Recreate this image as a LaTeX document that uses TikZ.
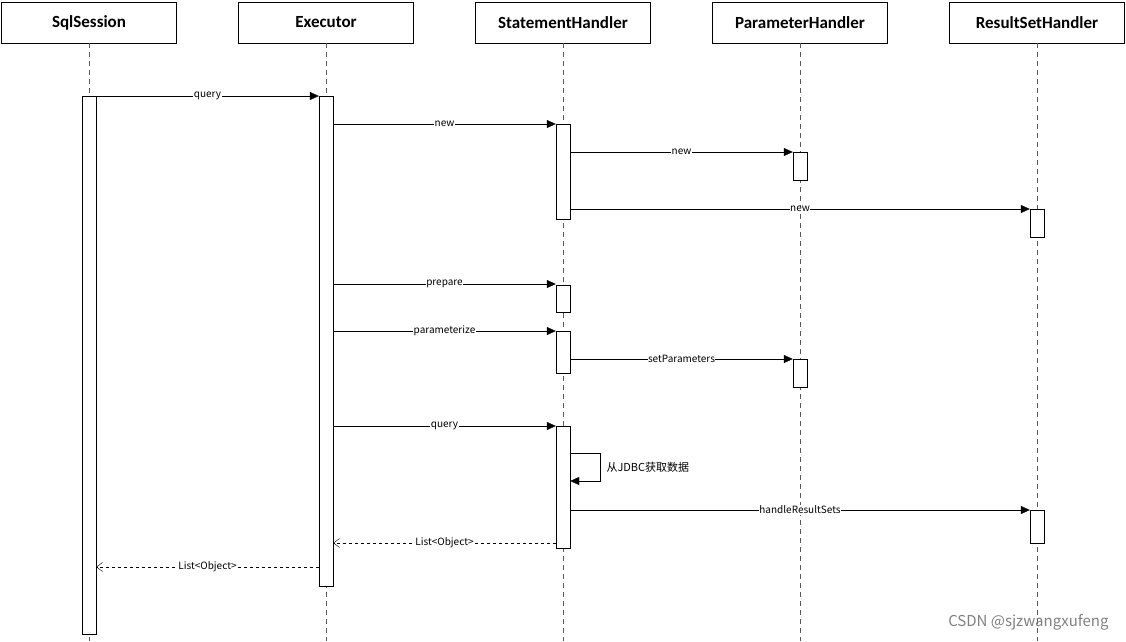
\documentclass[tikz,border=0pt]{standalone}
\usepackage{fontspec}
\setmainfont{Carlito}
\newfontfamily\cjk{Noto Sans CJK SC}
\usetikzlibrary{arrows.meta}
\begin{document}
\begin{tikzpicture}[x=1pt,y=-1pt,
  hdr/.style={draw,minimum width=175pt,minimum height=41pt,inner sep=0pt,font=\bfseries\fontsize{17}{19}\selectfont},
  act/.style={draw,fill=white,minimum width=14pt,inner sep=0pt},
  life/.style={dash pattern=on 5pt off 4pt,gray!70!black},
  msg/.style={-{Triangle[length=9pt,width=8pt]}},
  ret/.style={dashed,-{Straight Barb[length=6pt,width=9pt]}},
  lbl/.style={fill=white,inner sep=0.5pt,font=\cjk\fontsize{10}{11}\selectfont}]
\useasboundingbox (0,0) rectangle (1126,641);
\foreach \n/\t/\x in {s/SqlSession/89,e/Executor/326,h/StatementHandler/563,p/ParameterHandler/800,r/ResultSetHandler/1037}{
  \node[hdr] (\n) at (\x,22.5) {\t};
  \coordinate (\n end) at (\x,641);
  \draw[life] (\n.south) -- (\n end);
}
\newcommand\actv[4]{\node[act,minimum height=#4-#3] (#1) at (#2,{(#3+#4)/2}) {};}
\actv{sA}{89}{96}{634}
\actv{eA}{326}{96}{586}
\actv{h1}{563}{124}{219}
\actv{h2}{563}{285}{312}
\actv{h3}{563}{331}{373}
\actv{h4}{563}{426}{548}
\actv{p1}{800}{152}{180}
\actv{p2}{800}{359}{387}
\actv{r1}{1037}{209}{237}
\actv{r2}{1037}{510}{543}
\draw[msg] (sA.east|-0,96) -- node[lbl]{query} (eA.west|-0,96);
\draw[msg] (eA.east|-0,124) -- node[lbl]{new} (h1.west|-0,124);
\draw[msg] (h1.east|-0,152) -- node[lbl]{new} (p1.west|-0,152);
\draw[msg] (h1.east|-0,209) -- node[lbl]{new} (r1.west|-0,209);
\draw[msg] (eA.east|-0,284) -- node[lbl]{prepare} (h2.west|-0,284);
\draw[msg] (eA.east|-0,331) -- node[lbl]{parameterize} (h3.west|-0,331);
\draw[msg] (h3.east|-0,359) -- node[lbl]{setParameters} (p2.west|-0,359);
\draw[msg] (eA.east|-0,426) -- node[lbl]{query} (h4.west|-0,426);
\coordinate (lp1) at (600,453); \coordinate (lp2) at (600,481);
\draw[msg] (h4.east|-0,453) -- (lp1) -- node[right,font=\cjk\fontsize{11}{12}\selectfont,xshift=3pt]{从JDBC获取数据} (lp2) -- (h4.east|-0,481);
\draw[msg] (h4.east|-0,510) -- node[lbl]{handleResultSets} (r2.west|-0,510);
\draw[ret] (h4.west|-0,543) -- node[lbl]{List<Object>} (eA.east|-0,543);
\draw[ret] (eA.west|-0,567) -- node[lbl]{List<Object>} (sA.east|-0,567);
\node[font=\cjk\fontsize{15}{17}\selectfont,text=gray,anchor=east] (wm) at (1112,622) {CSDN @sjzwangxufeng};
\end{tikzpicture}
\end{document}
